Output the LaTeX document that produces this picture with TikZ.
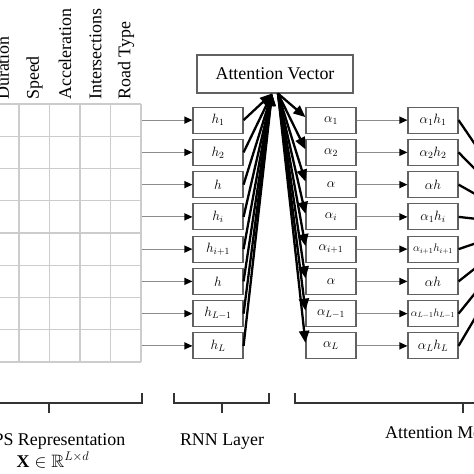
\RequirePackage{fix-cm}
\documentclass[tikz,border=0pt]{standalone}
\usepackage{amssymb}
\usepackage{graphicx}
\usepackage{fontspec}
\setmainfont{Liberation Serif}
\usetikzlibrary{arrows.meta}
\begin{document}
\begin{tikzpicture}[x=1pt,y=-1pt,
  lbl/.style={font=\fontsize{17.9}{20}\selectfont, inner sep=0pt},
  hdr/.style={lbl, rotate=90, anchor=west},
  cell/.style={draw=black!62, line width=1.1pt, minimum width=50pt, minimum height=26pt, inner sep=1pt, font=\fontsize{13.5}{15}\selectfont},
  gridline/.style={draw=black!20, line width=1.1pt},
  feed/.style={draw=black!45, line width=1.1pt, -{Triangle[length=8pt,width=7pt,color=black]}},
  heavy/.style={draw=black, line width=2.3pt, -{Triangle[length=12pt,width=10pt]}},
  heavyline/.style={draw=black, line width=2.3pt},
  brace/.style={draw=black!80, line width=1.4pt}
]
\useasboundingbox (0,0) rectangle (474,474);
\clip (0,0) rectangle (474,474);
% grid
\foreach \j in {0,...,8} { \draw[gridline] (-20,{104+32.25*\j}) -- (141,{104+32.25*\j}); }
\foreach \xx in {-11.5,19,49.5,80,110.5,141} { \draw[gridline] (\xx,104) -- (\xx,362); }
% headers
\node[hdr] (cDur) at (3,100) {Duration};
\node[hdr] (cSpd) at (34.5,100) {Speed};
\node[hdr] (cAcc) at (65,100) {Acceleration};
\node[hdr] (cInt) at (95.5,100) {Intersections};
\node[hdr] (cRoad) at (126,100) {Road Type};
% attention vector
\node[draw=black!62, line width=1.1pt, minimum width=156pt, minimum height=38pt, lbl] (att) at (275,74) {Attention Vector};
\coordinate (attL) at ([xshift=-3pt]att.south);
\coordinate (attR) at ([xshift=3pt]att.south);
\coordinate (sum) at (530,225);
% rows
\foreach \k/\hl/\al/\ahl in {1/{$h_1$}/{$\alpha_1$}/{$\alpha_1h_1$}, 2/{$h_2$}/{$\alpha_2$}/{$\alpha_2h_2$}, 3/{$h$}/{$\alpha$}/{$\alpha h$}, 4/{$h_i$}/{$\alpha_i$}/{$\alpha_1h_i$}, 5/{$h_{i+1}$}/{$\alpha_{i+1}$}/{\scalebox{0.82}{$\alpha_{i+1}h_{i+1}$}}, 6/{$h$}/{$\alpha$}/{$\alpha h$}, 7/{$h_{L-1}$}/{$\alpha_{L-1}$}/{\scalebox{0.8}{$\alpha_{L-1}h_{L-1}$}}, 8/{$h_L$}/{$\alpha_L$}/{$\alpha_Lh_L$}}{
  \pgfmathsetmacro\yy{104+32.25*(\k-0.5)}
  \coordinate (g\k) at (142,\yy);
  \node[cell] (h\k) at (218,\yy) {\hl};
  \node[cell] (a\k) at (331,\yy) {\al};
  \node[cell] (ah\k) at (433,\yy) {\ahl};
  \draw[feed] (g\k) -- (h\k.west);
  \draw[feed] (a\k.east) -- (ah\k.west);
  \draw[heavy] (h\k.east) -- (attL);
  \draw[heavy] (attR) -- ([yshift=3pt]a\k.west);
  \draw[heavyline] (ah\k.east) -- (sum);
}
% brackets
\coordinate (b1a) at (-20,403); \coordinate (b1b) at (142,403);
\draw[brace] (b1a) -- (b1b) -- ++(0,-10);
\draw[brace] (49,403) -- (49,413);
\draw[brace] (174,393) -- (174,403) -- (269,403) -- (269,393);
\draw[brace] (222,403) -- (222,413);
\draw[brace] (295,393) -- (295,403) -- (490,403);
\draw[brace] (463,403) -- (463,413);
% labels
\node[lbl, anchor=base] (lGPS) at (53,445) {GPS Representation};
\node[lbl, anchor=base] (lX) at (53,467) {$\mathbf{X}\in\mathbb{R}^{L\times d}$};
\node[lbl, anchor=base] (lRNN) at (222,445) {RNN Layer};
\node[lbl, anchor=base] (lAtt) at (463,438) {Attention Mechanism};
\end{tikzpicture}
\end{document}
